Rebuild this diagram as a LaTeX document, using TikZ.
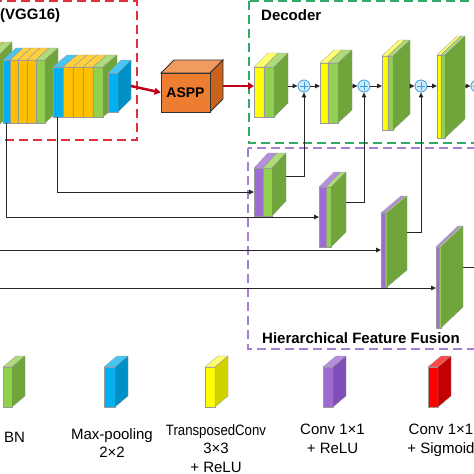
\documentclass[tikz,border=0pt]{standalone}
\usepackage{fontspec}
\setmainfont{Liberation Sans}
\usepackage{tikz,xcolor}
\usetikzlibrary{arrows.meta}

% face colours: F = front, T = top, S = side
\definecolor{greenF}{HTML}{92D050}\definecolor{greenT}{HTML}{AEDC78}\definecolor{greenS}{HTML}{6FA53A}
\definecolor{yellowF}{HTML}{FFFF00}\definecolor{yellowT}{HTML}{FFFF70}\definecolor{yellowS}{HTML}{D2D200}
\definecolor{goldF}{HTML}{FFC000}\definecolor{goldT}{HTML}{FFD040}\definecolor{goldS}{HTML}{D9A300}
\definecolor{blueF}{HTML}{00B0F0}\definecolor{blueT}{HTML}{45C6F5}\definecolor{blueS}{HTML}{0090C8}
\definecolor{purpF}{HTML}{9E6AD3}\definecolor{purpT}{HTML}{B68EE0}\definecolor{purpS}{HTML}{7E4FB6}
\definecolor{redF}{HTML}{FF0000}\definecolor{redT}{HTML}{FF4A4A}\definecolor{redS}{HTML}{C40000}
\definecolor{orngF}{HTML}{ED7D31}\definecolor{orngT}{HTML}{F29B5E}\definecolor{orngS}{HTML}{C9621C}
\definecolor{arrred}{HTML}{C0001A}
\definecolor{boxred}{HTML}{E0303C}
\definecolor{boxgreen}{HTML}{33AA66}
\definecolor{boxpurp}{HTML}{A580D5}
\definecolor{plusblue}{HTML}{3D9FE0}
\definecolor{plusfill}{HTML}{CDEBFA}

% one slab: x0, x1, top, bottom, depth dx, depth dy, colour
\newcommand{\slab}[7]{%
\filldraw[slabline, fill=#7F] (#1,#3) rectangle (#2,#4);
\filldraw[slabline, fill=#7T] (#1,#3) -- (#2,#3) -- ++(#5,-#6) -- (#1+#5,#3-#6) -- cycle;
\filldraw[slabline, fill=#7S] (#2,#3) -- ++(#5,-#6) -- ++(0,#4-#3) -- (#2,#4) -- cycle;
}

\begin{document}
\begin{tikzpicture}[x=1pt,y=-1pt,
  slabline/.style={draw=black!40, line width=0.3pt},
  arr/.style={draw=black!85, line width=1pt, -{Triangle[length=5pt,width=4.5pt]}},
  redarr/.style={draw=arrred, line width=2.5pt, -{Triangle[length=6pt,width=7pt]}},
  plus/.style={circle, draw=plusblue, fill=plusfill, line width=0.8pt, minimum size=12pt, inner sep=0pt},
  plusline/.style={plusblue, line width=1pt},
  box/.style={line width=2.5pt, dash pattern=on 9pt off 5pt},
  title/.style={font=\bfseries\fontsize{15}{18}\selectfont, inner sep=0pt},
  legtext/.style={font=\fontsize{15}{18.5}\selectfont, align=center, inner sep=0pt}]
\useasboundingbox (0,0) rectangle (474,474);
\clip (0,0) rectangle (474,474);

% dashed frames
\draw[box, boxred] (-10,1) rectangle (137,140);
\draw[box, boxgreen] (249,1) rectangle (490,143);
\draw[box, boxpurp] (248,148) rectangle (490,349);

\node[title, anchor=west] (enc) at (0,16) {(VGG16)};
\node[title, anchor=west] (dec) at (261,15) {Decoder};
\node[title] (hff) at (361,338) {Hierarchical Feature Fusion};

%encoder
\slab{-28}{-19}{55}{125}{13}{13}{gold}\slab{-19}{-10}{55}{125}{13}{13}{gold}\slab{-10}{-1}{55}{125}{13}{13}{green}
\slab{3}{10}{60}{123}{13}{12}{blue}\slab{10}{18}{60}{123}{13}{12}{gold}\slab{18}{27}{60}{123}{13}{12}{gold}
\slab{27}{36}{60}{123}{13}{12}{gold}\slab{36}{45}{60}{123}{13}{12}{green}
\slab{53}{63}{67}{117}{14}{12}{blue}\slab{63}{73}{67}{117}{14}{12}{gold}\slab{73}{83}{67}{117}{14}{12}{gold}
\slab{83}{93}{67}{117}{14}{12}{gold}\slab{93}{103}{67}{117}{14}{12}{green}
\slab{108}{118}{73}{112}{13}{13}{blue}
\coordinate (e1) at (6,123);
\coordinate (e2) at (57,117);
\coordinate (bo) at (131,86);

%aspp
\filldraw[fill=orngT, draw=black!80, line width=0.8pt] (161,73) -- ++(13,-13) -- ++(49,0) -- (210,73) -- cycle;
\filldraw[fill=orngS, draw=black!80, line width=0.8pt] (210,73) -- ++(13,-13) -- ++(0,39) -- (210,112) -- cycle;
\node[draw=black!80, line width=0.8pt, fill=orngF, minimum width=49pt, minimum height=39pt, inner sep=0pt,
  font=\bfseries\fontsize{14}{16}\selectfont] (aspp) at (185.5,92.5) {ASPP};
\coordinate (ao) at (223,86);

%decoder
\slab{254}{264}{67}{117}{14}{14}{yellow}\slab{264}{274}{67}{117}{14}{14}{green}
\slab{320}{328}{63}{123}{14}{13}{yellow}\slab{328}{338}{63}{123}{14}{13}{green}
\slab{382}{388}{56}{130}{17}{16}{yellow}\slab{388}{393}{56}{130}{17}{16}{green}
\slab{437}{441}{55}{138}{20}{19}{yellow}\slab{441}{445}{55}{138}{20}{19}{green}
\coordinate (d1i) at (254,86); \coordinate (d1o) at (288,86);
\coordinate (d2i) at (320,86); \coordinate (d2o) at (352,86);
\coordinate (d3i) at (382,86); \coordinate (d3o) at (410,86);
\coordinate (d4i) at (437,86); \coordinate (d4o) at (465,86);

\node[plus] (p1) at (304,86) {};
\node[plus] (p2) at (364,86) {};
\node[plus] (p3) at (421,86) {};
\node[plus] (p4) at (477,86) {};
\foreach \p in {p1,p2,p3,p4}{
  \draw[plusline] ([xshift=-4pt]\p.center) -- ([xshift=4pt]\p.center);
  \draw[plusline] ([yshift=-4pt]\p.center) -- ([yshift=4pt]\p.center);
}

%hierarchical feature fusion
\slab{254}{263}{168}{216}{14}{15}{purp}\slab{263}{272}{168}{216}{14}{15}{green}
\slab{319}{326}{187}{247}{15}{15}{purp}\slab{326}{331}{187}{247}{15}{15}{green}
\slab{381}{385}{213}{287}{20}{17}{purp}\slab{385}{387}{213}{287}{20}{17}{green}
\slab{436}{439}{247}{328}{22}{21}{purp}\slab{439}{441}{247}{328}{22}{21}{green}
\coordinate (h1i) at (254,192); \coordinate (h1o) at (286,176);
\coordinate (h2i) at (319,217); \coordinate (h2o) at (346,202);
\coordinate (h3i) at (381,250); \coordinate (h3o) at (407,232);
\coordinate (h4i) at (436,288); \coordinate (h4o) at (463,267);
\coordinate (l3) at (-5,250); \coordinate (l4) at (-5,288);
\coordinate (r4) at (480,267);

% connections
\draw[redarr] (bo) -- (aspp.west);
\draw[redarr] (ao) -- (d1i);
\draw[arr] (d1o) -- (p1);
\draw[arr] (p1) -- (d2i);
\draw[arr] (d2o) -- (p2);
\draw[arr] (p2) -- (d3i);
\draw[arr] (d3o) -- (p3);
\draw[arr] (p3) -- (d4i);
\draw[arr] (d4o) -- (p4);

\draw[arr] (e2) |- (h1i);
\draw[arr] (e1) |- (h2i);
\draw[arr] (l3) -- (h3i);
\draw[arr] (l4) -- (h4i);
\draw[arr] (h1o) -| (p1);
\draw[arr] (h2o) -| (p2);
\draw[arr] (h3o) -| (p3);
\draw[draw=black!85, line width=1pt] (h4o) -- (r4);

%legend
\slab{3}{12}{367}{407}{13}{11}{green}
\slab{104}{115}{367}{407}{13}{11}{blue}
\slab{205}{215}{367}{407}{13}{11}{yellow}
\slab{323}{333}{367}{407}{13}{11}{purp}
\slab{428}{438}{367}{407}{13}{11}{red}
\node[legtext] (lbn) at (14.5,437) {BN};
\node[legtext, anchor=north] (lmp) at (112,428) {Max-pooling\\2×2};
\node[legtext, anchor=north] (ltc) at (216,424) {\scalebox{0.88}[1]{TransposedConv}\\3×3\\+ ReLU};
\node[legtext, anchor=north] (lcr) at (332.5,424) {Conv 1×1\\+ ReLU};
\node[legtext, anchor=north] (lcs) at (441,424) {Conv 1×1\\+ Sigmoid};
\end{tikzpicture}
\end{document}
